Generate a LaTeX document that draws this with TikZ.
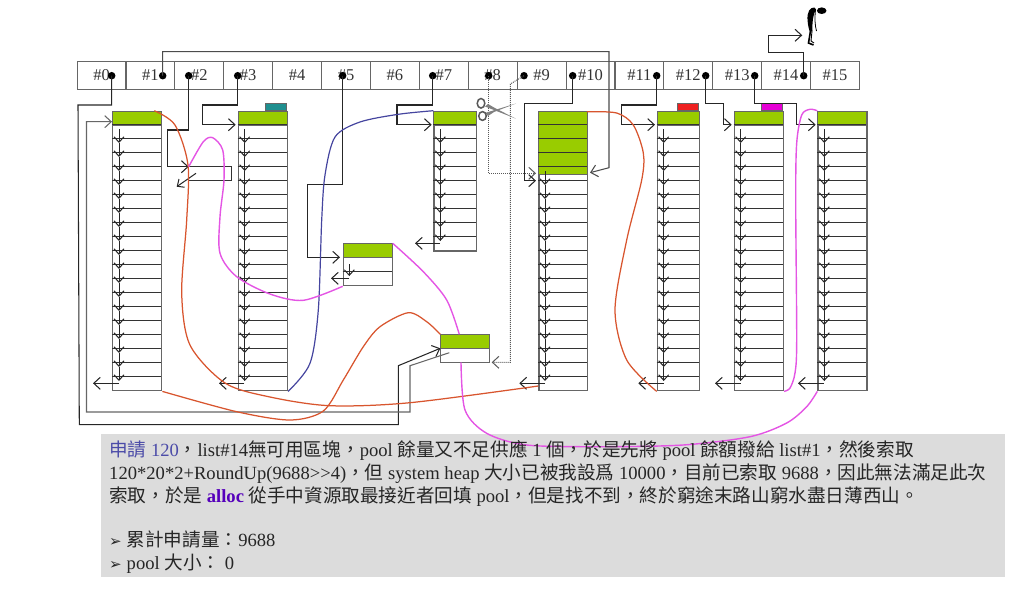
\documentclass[tikz,border=0pt]{standalone}
\usepackage{fontspec}
\setmainfont{Liberation Serif}
\newfontfamily\cjk{Noto Sans CJK TC}
\newfontfamily\dejavu{DejaVu Sans}
\usetikzlibrary{arrows.meta}
\newcommand{\zh}[1]{{\cjk #1}}
\newcommand{\itembullet}{\makebox[17.5pt][l]{\dejavu\fontsize{15}{15}\selectfont ➢}}
\definecolor{hdgreen}{HTML}{99CC00}
\definecolor{tabteal}{HTML}{1F8F8F}
\definecolor{tabred}{HTML}{EE2020}
\definecolor{tabpink}{HTML}{E600D6}
\definecolor{curvered}{HTML}{D8552E}
\definecolor{curvepink}{HTML}{E455E4}
\definecolor{curvenavy}{HTML}{45459F}
\definecolor{txtblue}{HTML}{4B4BA8}
\definecolor{txtpurple}{HTML}{5500BB}
\definecolor{boxgray}{HTML}{DCDCDC}
\tikzset{
	>={Straight Barb[length=6.5pt,width=12pt]},
	listcell/.style={draw=black!60,line width=1.1pt,minimum width=48.9pt,minimum height=28pt,inner sep=0pt,text=black!80,font=\fontsize{16.5}{18}\selectfont},
	listdot/.style={circle,fill=black,minimum size=7.5pt,inner sep=0pt},
	blockbox/.style={draw=black!60,line width=1.4pt,anchor=north west,inner sep=0pt},
	headbox/.style={blockbox,line width=1pt,fill=hdgreen,minimum height=14pt},
	tabbox/.style={draw=black!60,line width=0.8pt,anchor=south east,inner sep=0pt,minimum height=7pt,minimum width=21pt},
	rowline/.style={black!80,line width=0.95pt},
	smallarrow/.style={->,black!85,line width=1pt,>={Straight Barb[length=5.5pt,width=10pt]}},
	link/.style={->,black!85,line width=1.05pt},
	dotlink/.style={->,black!65,densely dotted,line width=1pt},
	redcurve/.style={curvered,line width=1.25pt},
	pinkcurve/.style={curvepink,line width=1.4pt},
	bodytext/.style={anchor=base west,inner sep=0pt,text=black!85,font=\fontsize{18.6}{22}\selectfont}
}
\begin{document}
\begin{tikzpicture}[x=1pt,y=-1pt]
	\useasboundingbox (0,0) rectangle (1022,592);
	% note box
	\fill[boxgray] (100.7,434) rectangle (1005,576.7);
	% list table
	\foreach \i in {0,...,15} {
		\node[listcell] (c\i) at (101.5+48.9*\i,75.5) {\#\i};
	}
	\foreach \i/\x in {0/111.7,1/162.7,2/188.7,3/237.7,5/342.7,7/432.7,8/488.7,9/524,10/572.7,11/656.7,12/705.7,13/754.7,14/803.7} {
		\node[listdot] (d\i) at (\x,75.7) {};
	}
	% free lists
	\foreach \nm/\bx/\bw/\bh/\nr/\nh in {b0/112/49/279.3/19/17,b3/237.7/49/279.3/19/17,b7/433.3/42.4/139.6/9/7,b11/656.7/42.3/279.3/19/17,b12/733.7/49/279.3/19/17,b13/817.3/49/279.3/19/17} {
		\node[blockbox,minimum width=\bw pt,minimum height=\bh pt] (\nm) at (\bx,110.7) {};
		\node[headbox,minimum width=\bw pt] (h\nm) at (\bx,110.7) {};
		\foreach \k in {1,...,\nr} {
			\draw[rowline] (\bx,110.7+14*\k) -- ++(\bw,0);
		}
		\foreach \k in {0,...,\nh} {
			\draw[smallarrow] (\bx+7,129+14*\k) -- (\bx+7,143+14*\k);
		}
	}
	\node[tabbox,fill=tabteal] (t3) at (286.7,110.7) {};
	\node[tabbox,fill=tabred] (t11) at (699,110.7) {};
	\node[tabbox,fill=tabpink] (t12) at (782.7,110.7) {};
	% block of list 10
	\node[blockbox,minimum width=48.6pt,minimum height=279.3pt] (b10) at (538.3,110.7) {};
	\node[blockbox,line width=1pt,fill=hdgreen,minimum width=48.6pt,minimum height=63pt] (hb10) at (538.3,110.7) {};
	\foreach \k in {1,...,4} {
		\draw[rowline] (538.3,110.7+14*\k) -- ++(48.6,0);
	}
	\foreach \k in {0,...,14} {
		\draw[rowline] (538.3,180.7+14*\k) -- ++(48.6,0);
	}
	\foreach \k in {3,...,17} {
		\draw[smallarrow] (545,129+14*\k) -- (545,143+14*\k);
	}
	% small blocks
	\node[blockbox,line width=1pt,minimum width=49pt,minimum height=42pt] (b5) at (342.7,243.3) {};
	\node[headbox,minimum width=49pt] (hb5) at (342.7,243.3) {};
	\draw[rowline] (342.7,271.3) -- (391.7,271.3);
	\node[blockbox,line width=1pt,minimum width=49pt,minimum height=28pt] (bp) at (440.3,334.3) {};
	\node[headbox,minimum width=49pt] (hbp) at (440.3,334.3) {};
	\coordinate (b2nw) at (188.7,166.7);
	\draw[rowline] (b2nw) -- (231,166.7) -- (231,180.7) -- (188.7,180.7);
	% tails of the lists
	\foreach \x/\ty/\tip in {119/383.3/93,244.3/383.3/219,440/243.3/415,545/383.3/519.3,664/383.3/638.3,740.7/383.3/715,824/383.3/798,349.3/278.3/331} {
		\draw[link] (\x,\ty) -- (\tip,\ty);
	}
	\draw[smallarrow] (349.3,264) -- (349.3,276);
	\draw[smallarrow] (196,173.3) -- (176.7,186.7);
	% header pointers
	\draw[link] (d0.center) -- (111.7,105) -- (78,105) -- (79.3,424.7) -- (398.3,424.7) -- (398.3,365.7) -- (bp.west |- 0,348.3);
	\draw[link,black!60] (449.3,352.7) -- (410,365.7) -- (410,412) -- (86.5,412) -- (86.5,121.7) -- (b0.west |- 0,121.7);
	\draw[link,black!70] (d1.center) -- (162.7,51.7) -- (609,51.7) -- (609,167.7) -- (590,172.7);
	\draw[link] (d2.center) -- (188.7,130) -- (167.7,130) -- (167.7,166.7) -- (b2nw);
	\draw[link] (d3.center) -- (237.7,105) -- (202.7,105) -- (202.7,124.7) -- (235.7,124.7);
	\draw[link] (d5.center) -- (342.7,184.7) -- (307.7,184.7) -- (307.7,257.3) -- (340,257.3);
	\draw[link] (d7.center) -- (432.7,105) -- (397,105) -- (397,124.7) -- (431.7,124.7);
	\draw[dotlink] (d8.center) -- (488.7,173.3) -- (536,173.3);
	\draw[dotlink] (d9.center) -- (510.3,84) -- (510.3,362.3) -- (491.7,362.3);
	\draw[link] (d10.center) -- (572.7,103.3) -- (524.3,103.3) -- (524.3,180.7) -- (536,180.7);
	\draw[link] (d11.center) -- (656.7,105) -- (621.7,105) -- (621.7,124.7) -- (655,124.7);
	\draw[link] (d12.center) -- (705.7,103.3) -- (723.3,103.3) -- (723.3,124.7) -- (731.7,124.7);
	\draw[link] (d13.center) -- (754.7,103.3) -- (796.7,103.3) -- (796.7,124.7) -- (815.7,124.7);
	\draw[link] (d14.center) -- (803.7,52.3) -- (768.7,52.3) -- (768.7,35.3) -- (802.3,35.3);
	% chain curves
	\draw[redcurve] plot[smooth] coordinates {(154.3,110.7) (175,125) (188,165) (186.7,220) (181.7,293) (190,345) (225,383) (270,397) (330,405.7) (410,402.7) (b10.west |- 0,386)};
	\draw[redcurve] plot[smooth] coordinates {(b0.south east) (236.7,411.7) (290,420) (323.3,411) (343.3,380) (363.3,346.7) (380,326.7) (408.3,312.7) (426.7,321.7) (bp.north west)};
	\draw[redcurve] plot[smooth] coordinates {(586.9,111.7) (616.7,113) (633.3,125) (643.3,153) (641.7,180) (626.7,240) (615,310) (626.7,360) (b11.south west)};
	\draw[curvenavy,line width=1.2pt] plot[smooth] coordinates {(b3.south east) (310,363.3) (318.3,310) (321.7,220) (325,175) (335,137) (360,122) (398.3,114.3) (b7.north west)};
	\draw[pinkcurve] plot[smooth] coordinates {(b2nw) (203.3,141.7) (212.7,137.7) (222.7,150) (224,180) (220,216.7) (220,253.3) (236.7,276.7) (270,294) (303.3,300.3) (b5.south west)};
	\draw[pinkcurve] plot[smooth] coordinates {(b5.north east) (423.3,271.7) (446.7,300) (459.3,334.3)};
	\draw[pinkcurve] plot[smooth] coordinates {(461,362.3) (465,410) (486.7,433.3) (526.7,445) (600,446.7) (683,445) (750,436.7) (786.7,423) (806.7,406.7) (b13.south west)};
	\draw[pinkcurve] plot[smooth] coordinates {(b12.south east) (790,388) (795,373) (796.7,340) (795.7,200) (796.7,143) (801.7,115) (810,109.3) (hb13.north west)};
	% scissors
	\fill[black!50] (485,113) -- (516,103.5) -- (494,112) -- (488,116) -- cycle;
	\fill[black!50] (485,106.5) -- (515.5,118.5) -- (494,107.5) -- (488,104) -- cycle;
	\draw[black!65,line width=1.5pt] (481,103.3) ellipse (3.8 and 4.8);
	\draw[black!65,line width=1.5pt] (482.5,116) ellipse (3.8 and 4.4);
	% the figure at the end of list 14
	\fill (814.5,7.5) .. controls (810,7) and (807,12) .. (807.5,20) .. controls (808,26) and (809,30) .. (810,32) -- (812.5,31) .. controls (812,24) and (813,14) .. (816,9.5) -- cycle;
	\fill (821.7,10.7) ellipse (4.8 and 3.3);
	\draw[line width=0.8pt] (815.5,10) .. controls (814.5,18) and (815,26) .. (816.5,31);
	\draw[line width=1.6pt] (810.5,31) -- (808.5,43) -- (813.5,45);
	\draw[line width=0.9pt] (812,31) -- (811,41) -- (814,43);
	% note text
	\node[bodytext] (l1) at (109,456.5) {\textcolor{txtblue}{\zh{申請} 120}\zh{，}list\#14\zh{無可用區塊，}pool \zh{餘量又不足供應} 1 \zh{個，於是先將} pool \zh{餘額撥給} list\#1\zh{，然後索取}};
	\node[bodytext] (l2) at (109,479) {120*20*2+RoundUp(9688>{}>4)\zh{，但} system heap \zh{大小已被我設爲} 10000\zh{，目前已索取} 9688\zh{，因此無法滿足此次}};
	\node[bodytext] (l3) at (109,502) {\zh{索取，於是} \textcolor{txtpurple}{\textbf{alloc}} \zh{從手中資源取最接近者回填} pool\zh{，但是找不到，終於窮途末路山窮水盡日薄西山。}};
	\node[bodytext] (l4) at (109,546) {\itembullet\zh{累計申請量：}9688};
	\node[bodytext] (l5) at (109,569) {\itembullet pool \zh{大小：} 0};
\end{tikzpicture}
\end{document}
